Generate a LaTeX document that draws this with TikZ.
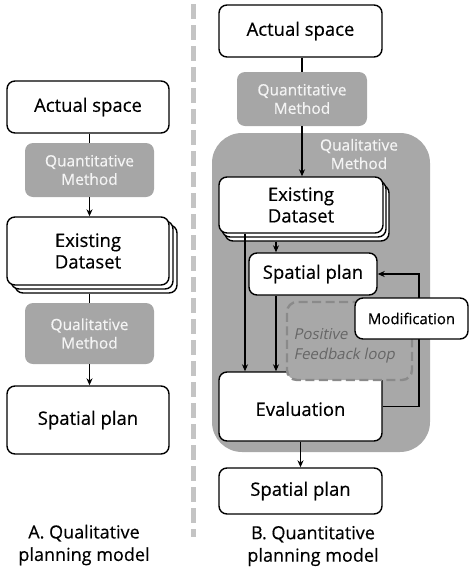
\documentclass[tikz,border=0pt]{standalone}
\usepackage{fontspec}
\setmainfont{Open Sans}[FakeBold=0.4]
\newfontfamily\slfont{Open Sans}[FakeSlant=0.2]
\usetikzlibrary{arrows.meta,calc}
\definecolor{boxgray}{HTML}{A6A6A6}
\definecolor{bggray}{HTML}{A8A8A8}
\definecolor{txtlight}{HTML}{F4F4F4}
\definecolor{dashgray}{HTML}{8A8A8A}
\definecolor{loopgray}{HTML}{666666}
\definecolor{sepgray}{HTML}{C4C4C4}
\tikzset{
  wbox/.style={draw=black, line width=1.4pt, fill=white, rounded corners=8pt, align=center, font=\fontsize{18.5}{21.5}\selectfont, inner sep=0pt},
  gbox/.style={fill=boxgray, rounded corners=8pt, align=center, text=txtlight, font=\fontsize{15.5}{18.5}\selectfont, inner sep=0pt},
  arr/.style={-{Stealth[length=7pt,width=6pt]}, line width=1.1pt},
  ln/.style={line width=1.1pt},
  lbl/.style={align=center, font=\fontsize{18}{22.5}\selectfont},
}
\begin{document}
\begin{tikzpicture}[x=1pt,y=-1pt]
\useasboundingbox (0,0) rectangle (474,571);
% separator
\draw[line width=5pt, sepgray, dash pattern=on 15pt off 6pt] (193,4) -- (193,537);

% ---------- left: A ----------
\node[wbox, minimum width=162pt, minimum height=52pt] (a1) at (88,107) {Actual space};
\node[gbox, minimum width=129pt, minimum height=54pt] (q1) at (89.5,170) {Quantitative\\Method};
\node[wbox, minimum width=162pt, minimum height=68pt] (e1c) at (96,259) {};
\node[wbox, minimum width=162pt, minimum height=68pt] (e1b) at (92,255) {};
\node[wbox, minimum width=162pt, minimum height=68pt] (e1) at (88,251) {Existing\\Dataset};
\node[gbox, minimum width=129pt, minimum height=61pt] (ql1) at (89.5,333.5) {Qualitative\\Method};
\node[wbox, minimum width=162pt, minimum height=68pt] (s1) at (88,420) {Spatial plan};
\draw[ln] (a1.south -| q1) -- (q1.north);
\draw[arr] (q1.south) -- (e1.north -| q1);
\draw[ln] (e1c.south -| ql1) -- (ql1.north);
\draw[arr] (ql1.south) -- (s1.north -| ql1);
\node[lbl] (la) at (84,545) {A. Qualitative\\planning model};

% ---------- right: B ----------
\node[wbox, minimum width=163pt, minimum height=52pt] (a2) at (300.5,31) {Actual space};
\node[gbox, minimum width=130pt, minimum height=54pt] (q2) at (302,99) {Quantitative\\Method};
\node[fill=bggray, rounded corners=30pt, minimum width=218pt, minimum height=319pt, inner sep=0pt] (bg) at (321,292.5) {};
\node[align=center, text=txtlight, font=\fontsize{15.5}{18.5}\selectfont] (qm) at (359,154) {Qualitative\\Method};
\node[wbox, minimum width=164pt, minimum height=56pt] (e2c) at (307,213) {};
\node[wbox, minimum width=164pt, minimum height=56pt] (e2b) at (304,209) {};
\node[wbox, minimum width=164pt, minimum height=56pt] (e2) at (301,205) {Existing\\Dataset};
\node[wbox, minimum width=128pt, minimum height=42pt] (sp2) at (313,274) {Spatial plan};
\node[wbox, minimum width=163pt, minimum height=69pt] (ev) at (300.5,406.5) {};
\node[draw=dashgray, fill=bggray, line width=2.4pt, dash pattern=on 9pt off 4.5pt, rounded corners=10pt, minimum width=125pt, minimum height=78pt, inner sep=0pt] (fb) at (349.5,341) {};
\node[font=\fontsize{18.5}{21.5}\selectfont] (evt) at (300.5,409) {Evaluation};
\coordinate (xa) at (245,0);
\coordinate (xb) at (276,0);
\coordinate (xr) at (419,0);
\draw[ln] (a2.south -| q2) -- (q2.north);
\draw[arr] (q2.south) -- (e2.north -| q2);
\draw[arr] (e2c.south -| xb) -- (sp2.north -| xb);
\draw[arr] (e2.south -| xa) -- (ev.north -| xa);
\draw[arr] (sp2.south -| xb) -- (ev.north -| xb);
\draw[arr] (ev.east) -- (ev.east -| xr) |- (sp2.east);
\node[wbox, minimum width=113pt, minimum height=41pt, font=\fontsize{15}{18}\selectfont] (mod) at (411.5,318.5) {Modification};
\node[align=left, text=loopgray, font=\fontsize{15}{19.5}\slfont, anchor=west] (fbt) at (290,346) {Positive\\Feedback loop};
\node[wbox, minimum width=163pt, minimum height=46pt] (s2) at (300.5,491) {Spatial plan};
\draw[arr] (ev.south) -- (s2.north);
\node[lbl] (lb) at (313,546) {B. Quantitative\\planning model};
\end{tikzpicture}
\end{document}
